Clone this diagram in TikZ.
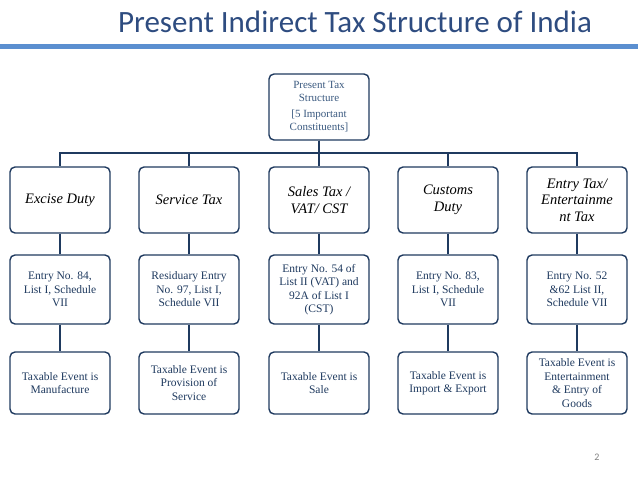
\documentclass[tikz,border=0pt]{standalone}
\usepackage{fontspec}
\setmainfont{Liberation Serif}
\newfontfamily\titlefont{Carlito}
\definecolor{navy}{HTML}{1F3A5F}
\definecolor{slate}{HTML}{3B5A80}
\definecolor{tblue}{HTML}{2E4C80}
\definecolor{lblue}{HTML}{5B8FD0}
\begin{document}
\begin{tikzpicture}[x=1pt,y=-1pt,
  bx/.style={draw=navy,line width=1.4pt,rounded corners=5pt,minimum width=100pt,align=center,inner sep=1pt,fill=white},
  lnk/.style={draw=navy,line width=1.4pt}]
\useasboundingbox (0,0) rectangle (638,478);
\node[text=tblue,font=\titlefont\fontsize{31}{36}\selectfont] (title) at (355,22) {Present Indirect Tax Structure of India};
\fill[lblue] (0,44) rectangle (638,49);
\node[bx,minimum height=66pt,text=slate,font=\fontsize{11}{13}\selectfont] (top) at (319,107) {Present Tax\\Structure\\[3pt][5 Important\\Constituents]};
\foreach \n/\x/\a/\b/\c in {
 e/60/{Excise Duty}/{Entry No. 84,\\List I, Schedule\\VII}/{Taxable Event is\\Manufacture},
 s/189/{Service Tax}/{Residuary Entry\\No. 97, List I,\\Schedule VII}/{Taxable Event is\\Provision of\\Service},
 v/319/{Sales Tax /\\VAT/ CST}/{Entry No. 54 of\\List II (VAT) and\\92A of List I\\(CST)}/{Taxable Event is\\Sale},
 c/448/{Customs\\Duty}/{Entry No. 83,\\List I, Schedule\\VII}/{Taxable Event is\\Import \& Export},
 t/577/{Entry Tax/\\Entertainme\\nt Tax}/{Entry No. 52\\\&62 List II,\\Schedule VII}/{Taxable Event is\\Entertainment\\\& Entry of\\Goods}}{
 \node[bx,minimum height=66pt,font=\itshape\fontsize{14.5}{16.5}\selectfont] (\n1) at (\x,200) {\a};
 \node[bx,minimum height=69pt,text=navy,font=\fontsize{11.5}{13.5}\selectfont] (\n2) at (\x,289.5) {\b};
 \node[bx,minimum height=62pt,text=navy,font=\fontsize{11.5}{13.5}\selectfont] (\n3) at (\x,383) {\c};
 \draw[lnk] (\n1.south) -- (\n2.north);
 \draw[lnk] (\n2.south) -- (\n3.north);
 \draw[lnk] (top.south) -- (319,153) -| (\n1.north);
}
\node[text=gray,font=\titlefont\fontsize{10}{12}\selectfont] (pg) at (597,457) {2};
\end{tikzpicture}
\end{document}
